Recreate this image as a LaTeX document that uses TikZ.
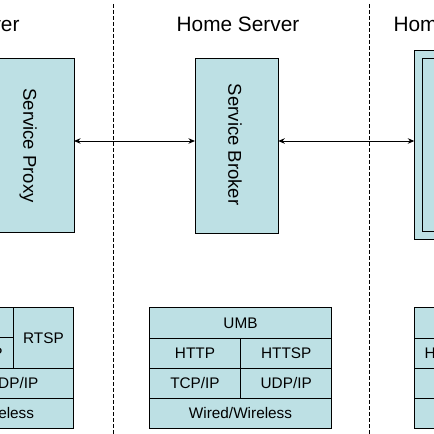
\documentclass[tikz,border=0pt]{standalone}
\usepackage{fontspec}
\setmainfont{Liberation Sans}
\usetikzlibrary{arrows.meta}
\definecolor{boxblue}{RGB}{189,224,228}
\begin{document}
\begin{tikzpicture}[x=1bp,y=-1bp,
  every node/.style={inner sep=0pt, outer sep=0pt},
  blk/.style={draw=black, fill=boxblue, line width=0.9bp, rectangle},
  cell/.style={blk, font=\fontsize{15.4}{18}\selectfont, text height=11bp, text depth=0pt},
  celltxt/.style={font=\fontsize{15.4}{18}\selectfont},
  boxtxt/.style={font=\fontsize{18.6}{22}\selectfont, rotate=-90, anchor=base},
  titletxt/.style={font=\fontsize{20.9}{24}\selectfont},
  sep/.style={line width=0.8bp, dash pattern=on 4bp off 2bp},
  link/.style={line width=0.9bp, {Stealth[length=6.5bp,width=5.5bp]}-{Stealth[length=6.5bp,width=5.5bp]}}]
\useasboundingbox (0,0) rectangle (434,434);
\clip (0,0) rectangle (434,434);
\fill[white] (0,0) rectangle (434,434);
% separators
\coordinate (s1t) at (113,4);
\coordinate (s1b) at (113,434);
\coordinate (s2t) at (369.3,4);
\coordinate (s2b) at (369.3,434);
\draw[sep] (s1t) -- (s1b);
\draw[sep] (s2t) -- (s2b);
% titles
\node[titletxt, anchor=base east] (tleft) at (19.5,31.7) {Proxy Server};
\node[titletxt, anchor=base] (tmid) at (238,31.7) {Home Server};
\node[titletxt, anchor=base west] (tright) at (393.5,31.7) {Home Client};
% main boxes
\node[blk, minimum width=86bp, minimum height=174bp] (proxy) at (31,145) {};
\node[boxtxt] (proxytxt) at (23.3,145.5) {Service Proxy};
\node[blk, minimum width=83.3bp, minimum height=175bp] (broker) at (236.6,145.5) {};
\node[boxtxt] (brokertxt) at (228.3,144.7) {Service Broker};
\node[blk, minimum width=105.7bp, minimum height=189.3bp] (outer) at (467.15,144.65) {};
\node[blk, minimum width=90bp, minimum height=173bp] (inner) at (467.7,144.5) {};
% arrows
\coordinate (ay) at (0,141);
\draw[link] (proxy.east |- ay) -- (broker.west |- ay);
\draw[link] (broker.east |- ay) -- (outer.west |- ay);
% left stack
\node[cell, minimum width=122bp, minimum height=30bp] (lup) at (-47.7,322.3) {};
\node[cell, minimum width=61.6bp, minimum height=31bp] (lhttp) at (-17.5,352.8) {HTTP};
\node[cell, minimum width=60.4bp, minimum height=61bp] (lrtsp) at (43.5,337.8) {RTSP};
\node[cell, minimum width=60.4bp, minimum height=30bp] (ltcp) at (-78.5,383.3) {TCP/IP};
\node[cell, minimum width=122bp, minimum height=30bp] (ludp) at (12.7,383.3) {UDP/IP};
\node[cell, minimum width=182.4bp, minimum height=30bp] (lwired) at (-17.5,413.3) {Wired/Wireless};
% middle stack
\node[cell, minimum width=182.4bp, minimum height=31bp] (umb) at (240.5,322.8) {UMB};
\node[cell, minimum width=91.4bp, minimum height=30bp] (mhttp) at (195,353.3) {HTTP};
\node[cell, minimum width=91bp, minimum height=30bp] (mhttsp) at (286.2,353.3) {HTTSP};
\node[cell, minimum width=91.4bp, minimum height=30bp] (mtcp) at (195,383.3) {TCP/IP};
\node[cell, minimum width=91bp, minimum height=30bp] (mudp) at (286.2,383.3) {UDP/IP};
\node[cell, minimum width=182.4bp, minimum height=30bp] (mwired) at (240.5,413.3) {Wired/Wireless};
% right stack
\node[cell, minimum width=120bp, minimum height=31bp] (r1) at (474.3,322.8) {};
\node[cell, minimum width=120bp, minimum height=30bp] (r2) at (474.3,353.3) {};
\node[celltxt, anchor=base west] (r2txt) at (424.5,358.8) {HTTP};
\node[cell, minimum width=120bp, minimum height=30bp] (r3) at (474.3,383.3) {};
\node[cell, minimum width=120bp, minimum height=30bp] (r4) at (474.3,413.3) {};
\end{tikzpicture}
\end{document}
